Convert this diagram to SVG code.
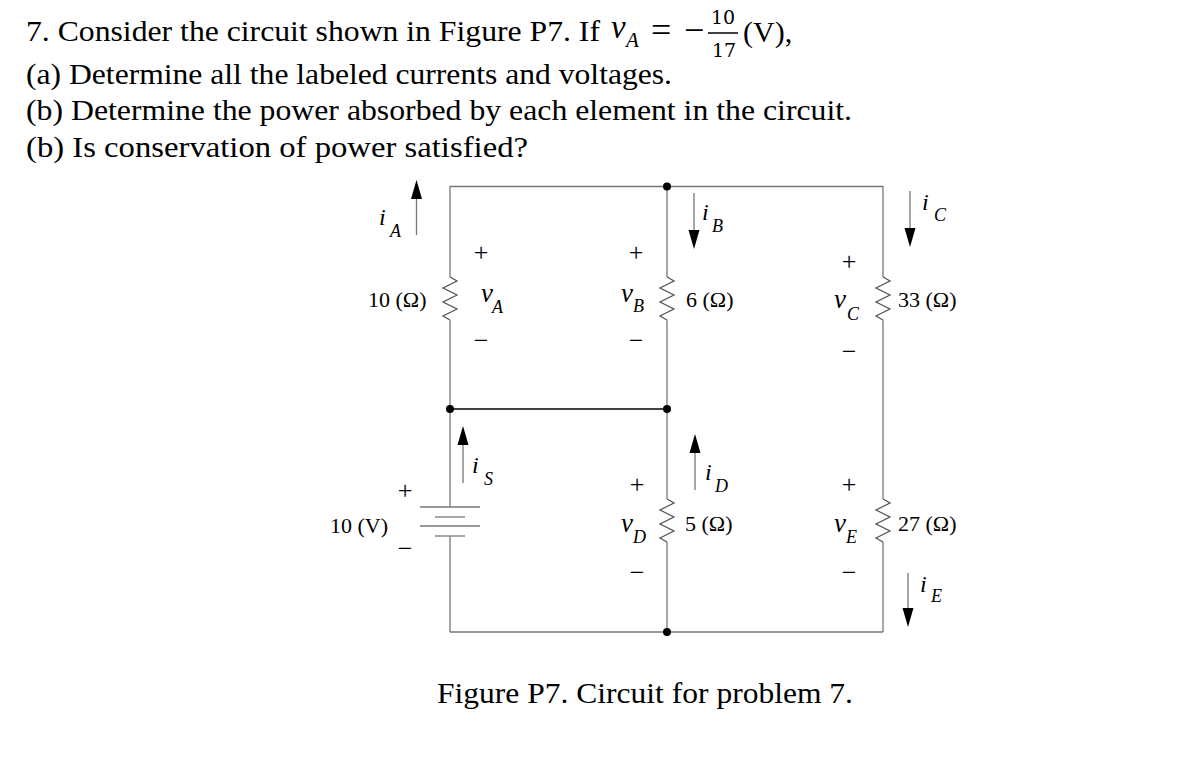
<svg xmlns="http://www.w3.org/2000/svg" width="1187" height="759" viewBox="0 0 1187 759">
<style>
.t{font-family:"Liberation Serif","Times New Roman",serif;fill:#000}
.it{font-family:"Liberation Serif","Times New Roman",serif;font-style:italic;fill:#000}
.w{stroke:#777;stroke-width:1.3;fill:none}
.k{stroke:#000;stroke-width:1.6;fill:none}
.z{stroke:#555;stroke-width:1.3;fill:none;stroke-linejoin:miter}
.ah{fill:#000}
.pm{font-family:"Liberation Serif","Times New Roman",serif;font-size:26px;fill:#000;text-anchor:middle}
.lb{font-family:"Liberation Serif","Times New Roman",serif;font-size:22px;fill:#000}
</style>
<defs>
<path id="res" d="M0,0 l7,4 l-14,7 l14,7 l-14,7 l14,7 l-14,7 l7,4"/>
<path id="up" d="M0,0 L-5.5,19 L5.5,19 Z"/>
<path id="dn" d="M0,0 L-5.5,-19 L5.5,-19 Z"/>
</defs>
<rect width="1187" height="759" fill="#fff"/>

<g id="problem-text">
<text class="t" x="26" y="41" font-size="30" textLength="574" lengthAdjust="spacingAndGlyphs">7. Consider the circuit shown in Figure P7. If</text>
<text class="it" x="611" y="38" font-size="33">v</text>
<text class="it" x="626" y="47" font-size="21">A</text>
<text class="t" x="651" y="42" font-size="36">=</text>
<text class="t" x="684" y="42" font-size="36">−</text>
<text x="723" y="24" font-size="19" font-family="DejaVu Serif, serif" text-anchor="middle">10</text>
<line x1="708" y1="33" x2="738" y2="33" stroke="#000" stroke-width="1.5"/>
<text x="724" y="57" font-size="19" font-family="DejaVu Serif, serif" text-anchor="middle">17</text>
<text class="t" x="743" y="42" font-size="30">(V),</text>
<text class="t" x="26" y="84" font-size="30" textLength="646" lengthAdjust="spacingAndGlyphs">(a) Determine all the labeled currents and voltages.</text>
<text class="t" x="26" y="120" font-size="30" textLength="826" lengthAdjust="spacingAndGlyphs">(b) Determine the power absorbed by each element in the circuit.</text>
<text class="t" x="26" y="157" font-size="30" textLength="502" lengthAdjust="spacingAndGlyphs">(b) Is conservation of power satisfied?</text>
</g>

<g id="connectors">
<line class="w" x1="450" y1="186.5" x2="883" y2="186.5"/>
<line class="w" x1="450" y1="632" x2="883" y2="632"/>
<line class="k" x1="450" y1="409" x2="667" y2="409"/>
<line class="w" x1="450" y1="186" x2="450" y2="277"/>
<line class="w" x1="450" y1="320" x2="450" y2="507"/>
<line class="w" x1="450" y1="536" x2="450" y2="632"/>
<line class="w" x1="667" y1="186" x2="667" y2="277"/>
<line class="w" x1="667" y1="320" x2="667" y2="499"/>
<line class="w" x1="667" y1="542" x2="667" y2="632"/>
<line class="w" x1="883" y1="186" x2="883" y2="277"/>
<line class="w" x1="883" y1="320" x2="883" y2="499"/>
<line class="w" x1="883" y1="542" x2="883" y2="632"/>
<circle cx="667" cy="186.5" r="4" fill="#000"/>
<circle cx="450" cy="409" r="4" fill="#000"/>
<circle cx="667" cy="409" r="4" fill="#000"/>
<circle cx="667" cy="632" r="4" fill="#000"/>
</g>

<g id="R10">
<use href="#res" x="450" y="277" class="z"/>
<text class="lb" x="368" y="307">10 (Ω)</text>
<text class="pm" x="481" y="261">+</text>
<text class="pm" x="481" y="349">−</text>
<text class="it" x="481" y="302" font-size="27">v</text>
<text class="it" x="492" y="313" font-size="18">A</text>
<line class="w" x1="416.5" y1="235" x2="416.5" y2="198"/>
<use href="#up" x="416.5" y="180" class="ah"/>
<text class="it" x="379" y="225" font-size="24">i</text>
<text class="it" x="390" y="237" font-size="18">A</text>
</g>

<g id="R6">
<use href="#res" x="667" y="277" class="z"/>
<text class="lb" x="686" y="307">6 (Ω)</text>
<text class="pm" x="636" y="261">+</text>
<text class="pm" x="636" y="349">−</text>
<text class="it" x="621" y="302" font-size="27">v</text>
<text class="it" x="633" y="312" font-size="18">B</text>
<line class="w" x1="694" y1="193" x2="694" y2="231"/>
<use href="#dn" x="694" y="249" class="ah"/>
<text class="it" x="702" y="220" font-size="24">i</text>
<text class="it" x="712" y="232" font-size="18">B</text>
</g>

<g id="R33">
<use href="#res" x="883" y="277" class="z"/>
<text class="lb" x="898" y="307">33 (Ω)</text>
<text class="pm" x="849" y="270">+</text>
<text class="pm" x="849" y="360">−</text>
<text class="it" x="834" y="308" font-size="27">v</text>
<text class="it" x="847" y="320" font-size="18">C</text>
<line class="w" x1="910" y1="191" x2="910" y2="230"/>
<use href="#dn" x="910" y="247" class="ah"/>
<text class="it" x="922" y="210" font-size="24">i</text>
<text class="it" x="934" y="221" font-size="18">C</text>
</g>

<g id="source10V">
<line class="w" x1="420" y1="507" x2="480" y2="507"/>
<line class="w" x1="435" y1="517" x2="465" y2="517"/>
<line class="w" x1="420" y1="526" x2="480" y2="526"/>
<line class="w" x1="435" y1="536" x2="465" y2="536"/>
<text class="lb" x="330" y="533">10 (V)</text>
<text class="pm" x="405" y="499">+</text>
<text class="pm" x="405" y="557">−</text>
<line class="w" x1="463" y1="483" x2="463" y2="444"/>
<use href="#up" x="463" y="426" class="ah"/>
<text class="it" x="472" y="473" font-size="24">i</text>
<text class="it" x="484" y="485" font-size="18">S</text>
</g>

<g id="R5">
<use href="#res" x="667" y="499" class="z"/>
<text class="lb" x="685" y="531">5 (Ω)</text>
<text class="pm" x="637" y="493">+</text>
<text class="pm" x="637" y="581">−</text>
<text class="it" x="621" y="532" font-size="27">v</text>
<text class="it" x="633" y="543" font-size="18">D</text>
<line class="w" x1="695" y1="490" x2="695" y2="452"/>
<use href="#up" x="695" y="434" class="ah"/>
<text class="it" x="705" y="480" font-size="24">i</text>
<text class="it" x="715" y="492" font-size="18">D</text>
</g>

<g id="R27">
<use href="#res" x="883" y="499" class="z"/>
<text class="lb" x="898" y="531">27 (Ω)</text>
<text class="pm" x="849" y="493">+</text>
<text class="pm" x="849" y="581">−</text>
<text class="it" x="834" y="532" font-size="27">v</text>
<text class="it" x="846" y="543" font-size="18">E</text>
<line class="w" x1="908" y1="573" x2="908" y2="610"/>
<use href="#dn" x="908" y="627" class="ah"/>
<text class="it" x="920" y="592" font-size="24">i</text>
<text class="it" x="931" y="602" font-size="18">E</text>
</g>

<g id="caption">
<text class="t" x="437" y="703" font-size="30" textLength="416" lengthAdjust="spacingAndGlyphs">Figure P7. Circuit for problem 7.</text>
</g>
</svg>
